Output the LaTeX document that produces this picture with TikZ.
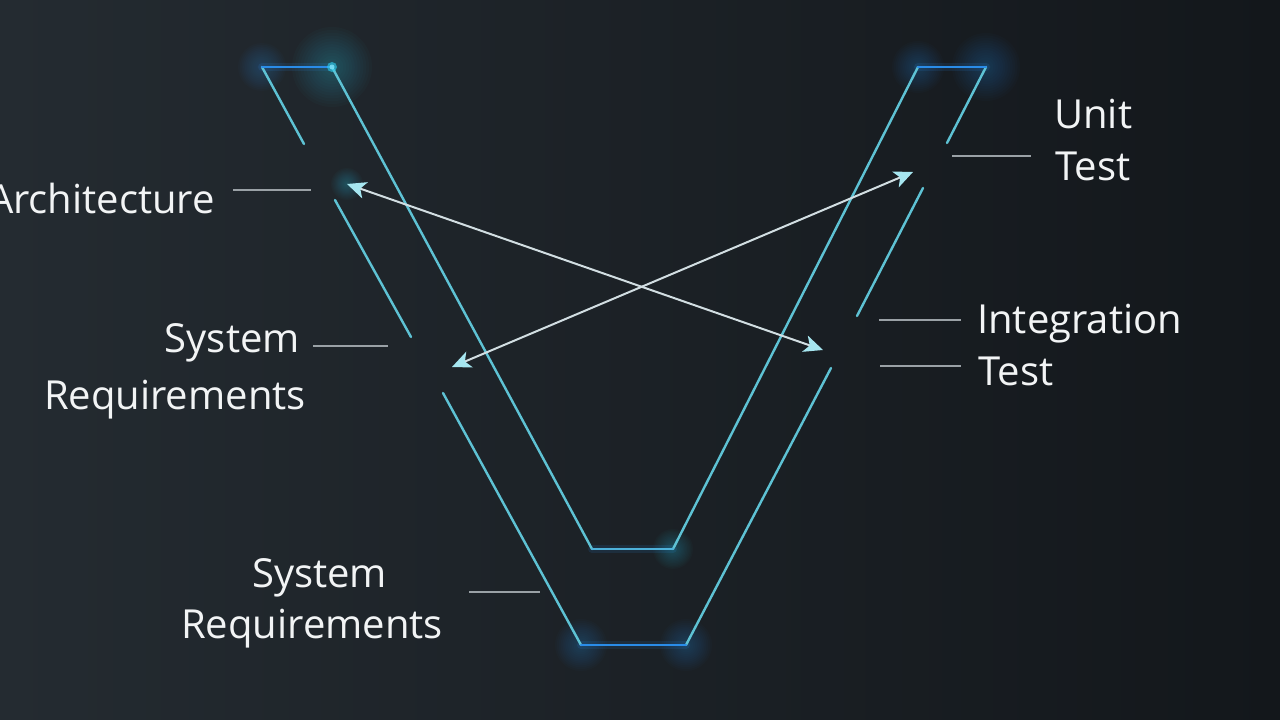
\documentclass[tikz,border=0pt]{standalone}
\usepackage{fontspec}
\setmainfont{Open Sans}
\usetikzlibrary{arrows.meta}
\definecolor{bgA}{HTML}{242B31}
\definecolor{bgB}{HTML}{13171B}
\definecolor{vteal}{HTML}{5EC2D4}
\definecolor{vblue}{HTML}{2A8CE8}
\definecolor{lbl}{HTML}{F2F4F5}
\definecolor{tickc}{HTML}{9AA1A6}
\definecolor{arrc}{HTML}{D2DEE2}
\definecolor{tipc}{HTML}{A6E6F0}
\definecolor{glowc}{HTML}{2FD0F0}
\newcommand{\vglow}[3]{%
  \foreach \i in {1,...,14}{%
    \fill[#2,opacity=0.025] (#1) circle[radius=#3*\i/14];}}
\tikzset{
  vline/.style={draw=vteal,line width=2.4pt,line cap=round},
  vtop/.style={draw=vblue,line width=2.6pt,line cap=round},
  vhalo/.style={draw=vblue,line width=8pt,opacity=0.12,line cap=round},
  tickline/.style={draw=tickc,line width=2.4pt},
  dblarrow/.style={draw=arrc,line width=2pt,{Stealth[length=19pt,width=17pt,inset=5pt,fill=tipc,color=tipc]}-{Stealth[length=19pt,width=17pt,inset=5pt,fill=tipc,color=tipc]}},
  lbltext/.style={text=lbl,font=\fontsize{40}{48}\selectfont,inner sep=0pt}
}
\begin{document}
\begin{tikzpicture}[x=1pt,y=-1pt]
\fill[left color=bgA,right color=bgB] (0,0) rectangle (1280,720);
\useasboundingbox (0,0) rectangle (1280,720);
% V corner coordinates
\coordinate (OTL) at (262,67);
\coordinate (ITL) at (332,67);
\coordinate (ITR) at (918,67);
\coordinate (OTR) at (986,67);
\coordinate (IBL) at (592,549);
\coordinate (IBR) at (673,549);
\coordinate (OBL) at (581,645);
\coordinate (OBR) at (686,645);
% segment ends of the broken outer lines
\coordinate (L1) at (304,144);
\coordinate (L2) at (335,200);
\coordinate (L3) at (411,337);
\coordinate (L4) at (443,393);
\coordinate (R1) at (947,143);
\coordinate (R2) at (923,188);
\coordinate (R3) at (857,316);
\coordinate (R4) at (831,368);
% glows
\vglow{ITL}{glowc}{40}
\vglow{OTL}{vblue}{24}
\vglow{OTR}{vblue}{34}
\vglow{ITR}{vblue}{26}
\vglow{OBL}{vblue}{26}
\vglow{OBR}{vblue}{26}
\vglow{IBR}{glowc}{20}
% halos
\draw[vhalo] (OTL) -- (ITL);
\draw[vhalo] (ITR) -- (OTR);
\draw[vhalo] (OBL) -- (OBR);
\draw[vhalo] (IBL) -- (IBR);
% outer V
\draw[vline] (OTL) -- (L1);
\draw[vline] (L2) -- (L3);
\draw[vline] (L4) -- (OBL);
\draw[vline] (OBR) -- (R4);
\draw[vline] (R3) -- (R2);
\draw[vline] (R1) -- (OTR);
% inner V
\draw[vline] (ITL) -- (IBL);
\draw[vline] (IBR) -- (ITR);
% horizontals
\draw[vtop] (OTL) -- (ITL);
\draw[vtop] (ITR) -- (OTR);
\draw[vtop] (OBL) -- (OBR);
\draw[vline,draw=vteal!70!vblue] (IBL) -- (IBR);
\fill[glowc,opacity=0.6] (ITL) circle[radius=5];
\fill[glowc!60!white,opacity=0.8] (ITL) circle[radius=2.5];
% arrows
\coordinate (A1s) at (347,184);
\coordinate (A1e) at (823,350);
\coordinate (A2s) at (452,367);
\coordinate (A2e) at (913,172);
\vglow{A1s}{glowc}{16}
\draw[dblarrow] (A1s) -- (A1e);
\draw[dblarrow] (A2s) -- (A2e);
% label tick lines
\coordinate (T1a) at (233,190); \coordinate (T1b) at (311,190);
\coordinate (T2a) at (313,346); \coordinate (T2b) at (388,346);
\coordinate (T3a) at (469,592); \coordinate (T3b) at (540,592);
\coordinate (T4a) at (952,156); \coordinate (T4b) at (1031,156);
\coordinate (T5a) at (879,320); \coordinate (T5b) at (961,320);
\coordinate (T6a) at (880,366); \coordinate (T6b) at (961,366);
\draw[tickline] (T1a) -- (T1b);
\draw[tickline] (T2a) -- (T2b);
\draw[tickline] (T3a) -- (T3b);
\draw[tickline] (T4a) -- (T4b);
\draw[tickline] (T5a) -- (T5b);
\draw[tickline] (T6a) -- (T6b);
% labels
\node[lbltext,anchor=base east] (arch) at (215,213) {Architecture};
\node[lbltext,anchor=base east] (sys1) at (300,352) {System};
\node[lbltext,anchor=base east] (req1) at (306,409) {Requirements};
\node[lbltext,anchor=base west] (sys2) at (252,587) {System};
\node[lbltext,anchor=base west] (req2) at (181,638) {Requirements};
\node[lbltext,anchor=base west] (unit) at (1054,128) {Unit};
\node[lbltext,anchor=base west] (test1) at (1055,180) {Test};
\node[lbltext,anchor=base west] (integ) at (977,333) {Integration};
\node[lbltext,anchor=base west] (test2) at (978,385) {Test};
\end{tikzpicture}
\end{document}
